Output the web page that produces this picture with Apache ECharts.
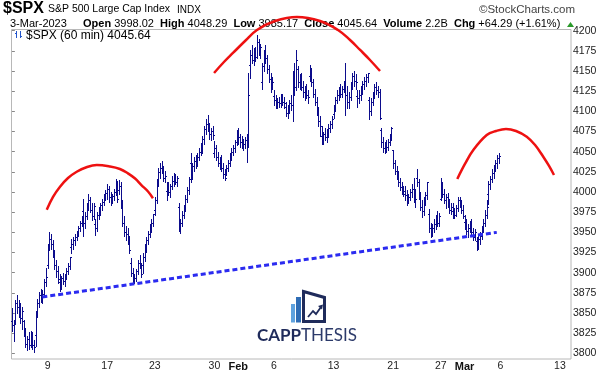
<!DOCTYPE html>
<html>
<head>
<meta charset="utf-8">
<script src="https://cdn.jsdelivr.net/npm/echarts@6/dist/echarts.min.js"></script>
<style>
html, body { margin: 0; padding: 0; background: #fff; }
#chart { width: 614px; height: 376px; }
</style>
</head>
<body>
<div id="chart"></div>
<script>
// $SPX 60 min bars, 7 bars per trading day
var days = ['2023-01-04','2023-01-05','2023-01-06','2023-01-09','2023-01-10','2023-01-11','2023-01-12','2023-01-13',
  '2023-01-17','2023-01-18','2023-01-19','2023-01-20','2023-01-23','2023-01-24','2023-01-25','2023-01-26','2023-01-27',
  '2023-01-30','2023-01-31','2023-02-01','2023-02-02','2023-02-03','2023-02-06','2023-02-07','2023-02-08','2023-02-09',
  '2023-02-10','2023-02-13','2023-02-14','2023-02-15','2023-02-16','2023-02-17','2023-02-21','2023-02-22','2023-02-23',
  '2023-02-24','2023-02-27','2023-02-28','2023-03-01','2023-03-02','2023-03-03'];
// empty slots to the right of the last bar
var futureDays = ['2023-03-06','2023-03-07','2023-03-08','2023-03-09','2023-03-10','2023-03-13'];
var hours = ['09:30','10:30','11:30','12:30','13:30','14:30','15:30'];

// [open, high, low, close] - one row per day
var ohlc = [
  [[3840,3856,3828,3835],[3835,3842,3815,3838],[3838,3866,3836,3862],[3862,3873,3850,3858],[3858,3866,3845,3850],[3850,3862,3838,3844],[3844,3858,3830,3852]],
  [[3840,3842,3822,3826],[3826,3832,3808,3812],[3812,3822,3804,3818],[3818,3826,3806,3810],[3810,3828,3808,3822],[3822,3826,3805,3811],[3811,3816,3802,3808]],
  [[3823,3852,3809,3848],[3848,3868,3845,3862],[3862,3876,3858,3872],[3872,3880,3864,3868],[3868,3878,3862,3874],[3874,3892,3870,3888],[3888,3906,3884,3895]],
  [[3910,3936,3906,3930],[3930,3951,3928,3942],[3942,3948,3930,3936],[3936,3940,3920,3924],[3924,3928,3904,3910],[3910,3916,3895,3902],[3902,3908,3887,3892]],
  [[3889,3898,3877,3884],[3884,3896,3880,3893],[3893,3900,3886,3890],[3890,3898,3884,3896],[3896,3906,3892,3902],[3902,3912,3898,3908],[3908,3919,3904,3919]],
  [[3932,3942,3925,3936],[3936,3944,3930,3940],[3940,3948,3934,3944],[3944,3952,3940,3950],[3950,3958,3945,3955],[3955,3964,3952,3962],[3962,3970,3958,3970]],
  [[3977,3992,3946,3962],[3962,3975,3955,3970],[3970,3986,3966,3982],[3982,3997,3978,3990],[3990,3994,3975,3978],[3978,3986,3965,3970],[3970,3986,3966,3983]],
  [[3960,3966,3947,3955],[3955,3975,3952,3972],[3972,3982,3966,3978],[3978,3986,3972,3984],[3984,3992,3978,3988],[3988,3998,3984,3994],[3994,4003,3990,3999]],
  [[3999,4010,3992,4004],[4004,4008,3988,3994],[3994,4000,3984,3990],[3990,3998,3986,3995],[3995,4004,3990,4000],[4000,4016,3996,4010],[4010,4014,3988,3991]],
  [[4002,4015,3998,4008],[4008,4012,3980,3984],[3984,3990,3958,3962],[3962,3970,3945,3950],[3950,3958,3940,3948],[3948,3955,3935,3940],[3940,3946,3925,3928]],
  [[3912,3918,3896,3900],[3900,3906,3886,3890],[3890,3898,3887,3894],[3894,3904,3890,3902],[3902,3916,3898,3912],[3912,3922,3906,3908],[3908,3912,3895,3898]],
  [[3909,3924,3900,3920],[3920,3935,3915,3930],[3930,3944,3926,3940],[3940,3952,3936,3948],[3948,3960,3944,3956],[3956,3966,3950,3962],[3962,3973,3958,3973]],
  [[3978,3994,3971,3990],[3990,4016,3986,4012],[4012,4030,4008,4025],[4025,4036,4018,4030],[4030,4039,4024,4028],[4028,4032,4014,4018],[4018,4026,4012,4020]],
  [[4001,4012,3990,4006],[4006,4012,3996,4000],[4000,4010,3994,4008],[4008,4020,4004,4014],[4014,4023,4008,4016],[4016,4022,4010,4012],[4012,4020,4008,4017]],
  [[3982,3986,3952,3958],[3958,3966,3949,3962],[3962,3976,3958,3972],[3972,3984,3968,3980],[3980,3996,3976,3992],[3992,4006,3988,4002],[4002,4019,3998,4016]],
  [[4036,4048,4013,4020],[4020,4036,4016,4032],[4032,4044,4026,4038],[4038,4046,4030,4034],[4034,4048,4032,4044],[4044,4054,4040,4050],[4050,4061,4046,4060]],
  [[4053,4070,4048,4066],[4066,4082,4060,4078],[4078,4090,4072,4084],[4084,4095,4076,4080],[4080,4086,4066,4072],[4072,4080,4064,4076],[4076,4082,4066,4071]],
  [[4049,4063,4044,4054],[4054,4058,4040,4044],[4044,4050,4032,4036],[4036,4044,4028,4040],[4040,4046,4026,4030],[4030,4036,4018,4022],[4022,4028,4015,4017]],
  [[4021,4034,4021,4030],[4030,4040,4026,4036],[4036,4048,4032,4044],[4044,4054,4040,4050],[4050,4058,4046,4054],[4054,4064,4050,4062],[4062,4077,4058,4077]],
  [[4070,4080,4060,4068],[4068,4072,4056,4062],[4062,4070,4054,4058],[4058,4066,4052,4060],[4060,4068,4054,4064],[4064,4072,4037,4060],[4060,4148,4056,4120]],
  [[4158,4176,4141,4170],[4170,4182,4160,4164],[4164,4178,4158,4174],[4174,4180,4162,4168],[4168,4195,4166,4186],[4186,4190,4170,4176],[4176,4184,4166,4180]],
  [[4137,4160,4128,4156],[4156,4176,4150,4170],[4170,4182,4160,4166],[4166,4170,4148,4152],[4152,4158,4136,4140],[4140,4148,4124,4132],[4132,4142,4128,4136]],
  [[4119,4127,4108,4114],[4114,4120,4104,4108],[4108,4116,4104,4112],[4112,4118,4106,4110],[4110,4122,4106,4116],[4116,4122,4108,4112],[4112,4118,4104,4111]],
  [[4106,4112,4094,4098],[4098,4108,4092,4104],[4104,4114,4098,4110],[4110,4120,4102,4108],[4108,4150,4088,4140],[4140,4160,4120,4130],[4130,4176,4126,4164]],
  [[4153,4156,4130,4136],[4136,4146,4128,4140],[4140,4148,4126,4130],[4130,4138,4118,4124],[4124,4132,4114,4128],[4128,4134,4116,4120],[4120,4126,4111,4118]],
  [[4144,4157,4138,4150],[4150,4154,4132,4136],[4136,4140,4118,4122],[4122,4128,4108,4112],[4112,4118,4096,4100],[4100,4106,4082,4088],[4088,4094,4069,4082]],
  [[4069,4082,4060,4066],[4066,4074,4060,4072],[4072,4080,4064,4068],[4068,4078,4062,4074],[4074,4084,4068,4080],[4080,4088,4074,4084],[4084,4094,4080,4090]],
  [[4097,4108,4092,4104],[4104,4118,4100,4114],[4114,4126,4110,4120],[4120,4130,4114,4126],[4126,4134,4118,4122],[4122,4132,4118,4128],[4128,4138,4124,4137]],
  [[4126,4160,4095,4120],[4120,4132,4104,4112],[4112,4124,4104,4118],[4118,4136,4114,4132],[4132,4148,4128,4144],[4144,4150,4132,4138],[4138,4146,4128,4136]],
  [[4119,4126,4106,4116],[4116,4126,4110,4120],[4120,4132,4114,4128],[4128,4138,4122,4134],[4134,4142,4128,4138],[4138,4146,4132,4142],[4142,4148,4136,4148]],
  [[4114,4118,4090,4100],[4100,4116,4096,4112],[4112,4124,4108,4120],[4120,4134,4116,4130],[4130,4136,4122,4126],[4126,4132,4118,4124],[4124,4128,4090,4092]],
  [[4077,4080,4056,4062],[4062,4068,4050,4054],[4054,4062,4048,4058],[4058,4064,4050,4056],[4056,4066,4052,4062],[4062,4072,4058,4068],[4068,4081,4064,4079]],
  [[4052,4052,4030,4036],[4036,4040,4022,4026],[4026,4032,4016,4020],[4020,4026,4008,4012],[4012,4018,4002,4006],[4006,4012,3998,4002],[4002,4008,3995,3997]],
  [[4001,4008,3990,3996],[3996,4002,3984,3988],[3988,3998,3986,3994],[3994,4004,3990,4000],[4000,4010,3994,4004],[4004,4018,3988,3996],[3996,4004,3982,3991]],
  [[4018,4028,4008,4012],[4012,4016,3992,3996],[3996,4000,3978,3982],[3982,3990,3969,3976],[3976,3994,3972,3990],[3990,4000,3984,3996],[3996,4012,3992,4012]],
  [[3973,3979,3950,3956],[3956,3962,3944,3950],[3950,3960,3946,3956],[3956,3966,3950,3960],[3960,3972,3954,3968],[3968,3976,3958,3962],[3962,3974,3958,3970]],
  [[3992,4018,3990,4008],[4008,4012,3994,3998],[3998,4004,3986,3990],[3990,3998,3980,3994],[3994,3999,3982,3986],[3986,3992,3974,3978],[3978,3986,3973,3982]],
  [[3977,3986,3968,3974],[3974,3980,3968,3972],[3972,3984,3970,3980],[3980,3994,3976,3990],[3990,3994,3982,3986],[3986,3990,3974,3978],[3978,3984,3968,3970]],
  [[3963,3971,3954,3958],[3958,3966,3948,3952],[3952,3960,3944,3956],[3956,3964,3950,3960],[3960,3966,3946,3950],[3950,3956,3940,3944],[3944,3954,3940,3951]],
  [[3939,3944,3928,3934],[3934,3946,3930,3942],[3942,3950,3936,3946],[3946,3958,3942,3954],[3954,3966,3950,3962],[3962,3978,3958,3972],[3972,3990,3968,3981]],
  [[3998,4014,3985,4010],[4010,4020,4004,4016],[4016,4028,4012,4024],[4024,4034,4018,4030],[4030,4040,4026,4036],[4036,4046,4030,4042],[4042,4048,4036,4045]]
];

// date axis labels (placed on the first bar of the day)
var tickDays = ['2023-01-09','2023-01-17','2023-01-23','2023-01-30','2023-02-01','2023-02-06','2023-02-13','2023-02-21','2023-02-27','2023-03-01','2023-03-06','2023-03-13'];
var tickTexts = ['9','17','23','30','Feb','6','13','21','27','Mar','6','13'];

// hand drawn annotations, [bar slot, price]
var leftArc = [[20.5,3978],[24.2,3994],[28.3,4006.6],[33,4017.4],[38.1,4025.2],[44.2,4031.1],[49.9,4033.5],
  [57.7,4031.7],[63.5,4028.6],[68.2,4023.2],[72.4,4016.8],[76.1,4008.7],[80,4000.7],[82.9,3992.3]];
var middleArc = [[118.8,4147.6],[124.6,4161.2],[129.9,4172.4],[137,4187.2],[144,4200.9],[154.6,4212],[167.5,4217],
  [181.1,4212],[191.6,4200.9],[198.7,4188.5],[204.6,4176.1],[210.4,4163.7],[216.3,4150]];
var rightArc = [[261.7,4016.2],[266.2,4034.8],[271.1,4052.1],[279,4070.7],[284.5,4075.7],[290.3,4078.2],
  [296.2,4075.7],[302.5,4068.6],[307.4,4058.3],[312.2,4043.8],[315.6,4032.3],[318.5,4021.1]];
var supportLine = [[17.9,3870],[284.9,3950]];

var barColor = '#0c0c8c';
var font = 'Liberation Sans, Arial, sans-serif';

var categories = [];
var barData = [];
days.concat(futureDays).forEach(function (d, di) {
  hours.forEach(function (h, hi) {
    var idx = categories.length;
    categories.push(d + ' ' + h);
    if (di < ohlc.length) {
      var b = ohlc[di][hi];
      barData.push([idx, b[0], b[1], b[2], b[3]]);
    }
  });
});
var nSlots = categories.length;

function labelFor(cat) {
  var parts = cat.split(' ');
  if (parts[1] !== hours[0]) return null;
  var k = tickDays.indexOf(parts[0]);
  return k < 0 ? null : tickTexts[k];
}

function renderBar(params, api) {
  var x = api.value(0);
  var pO = api.coord([x, api.value(1)]);
  var pH = api.coord([x, api.value(2)]);
  var pL = api.coord([x, api.value(3)]);
  var pC = api.coord([x, api.value(4)]);
  var cx = Math.round(pH[0]) + 0.5;
  var st = { stroke: barColor, lineWidth: 1 };
  return {
    type: 'group',
    children: [
      { type: 'line', shape: { x1: cx, y1: Math.round(pH[1]), x2: cx, y2: Math.round(pL[1]) + 1 }, style: st },
      { type: 'line', shape: { x1: cx - 1.5, y1: Math.round(pO[1]) + 0.5, x2: cx, y2: Math.round(pO[1]) + 0.5 }, style: st },
      { type: 'line', shape: { x1: cx, y1: Math.round(pC[1]) + 0.5, x2: cx + 1.5, y2: Math.round(pC[1]) + 0.5 }, style: st }
    ]
  };
}

function topLeft(text, x, y, f, color) {
  return { type: 'text', x: x, y: y, style: { text: text, font: f, fill: color || '#000',
    align: 'left', verticalAlign: 'top', textAlign: 'left', textVerticalAlign: 'top' } };
}

var arcStyle = { color: '#ee1111', width: 2.5 };

var chart = echarts.init(document.getElementById('chart'));
chart.setOption({
  animation: false,
  backgroundColor: '#fff',
  grid: { left: 11, right: 43, top: 30.7, bottom: 22.6, containLabel: false },
  xAxis: [{
    type: 'category',
    data: categories,
    boundaryGap: true,
    offset: 5.6,
    axisLine: { show: false },
    axisTick: { show: false },
    splitLine: { show: false },
    axisLabel: {
      interval: function (i, v) { return labelFor(v) !== null; },
      formatter: function (v) {
        var t = labelFor(v);
        if (t === null) return '';
        return /[A-Za-z]/.test(t) ? '{m|' + t + '}' : t;
      },
      margin: 2,
      fontFamily: font,
      fontSize: 10.5,
      color: '#222',
      rich: { m: { fontFamily: font, fontSize: 11, fontWeight: 'bold', color: '#111' } }
    }
  }, {
    type: 'value',
    show: false,
    min: -0.5,
    max: nSlots - 0.5
  }],
  yAxis: {
    type: 'value',
    position: 'right',
    min: 3800,
    max: 4200,
    interval: 25,
    axisLine: { show: false },
    axisTick: { show: true, length: 3, lineStyle: { color: '#888' } },
    splitLine: { show: false },
    axisLabel: {
      margin: 2, fontFamily: font, fontSize: 10.5, color: '#222',
      formatter: function (v) { return String(v); }
    }
  },
  series: [{
    type: 'custom',
    name: '$SPX',
    xAxisIndex: 0,
    renderItem: renderBar,
    encode: { x: 0, y: [1, 2, 3, 4] },
    data: barData,
    z: 3
  }, {
    type: 'line', xAxisIndex: 1, data: supportLine, symbol: 'none', clip: false, z: 4,
    lineStyle: { color: '#2b2bf0', width: 3, type: [5, 3] }
  }, {
    type: 'line', xAxisIndex: 1, data: leftArc, symbol: 'none', smooth: 0.4, clip: false, z: 4, lineStyle: arcStyle
  }, {
    type: 'line', xAxisIndex: 1, data: middleArc, symbol: 'none', smooth: 0.4, clip: false, z: 4, lineStyle: arcStyle
  }, {
    type: 'line', xAxisIndex: 1, data: rightArc, symbol: 'none', smooth: 0.4, clip: false, z: 4, lineStyle: arcStyle
  }],
  graphic: [
    // plot frame
    { type: 'rect', z: 1, shape: { x: 11.5, y: 29.5, width: 559.5, height: 329.5 },
      style: { fill: null, stroke: '#b8b8b8', lineWidth: 1 } },
    // header
    topLeft('$SPX', 3, 1, 'bold 16px ' + font),
    topLeft('S&P 500 Large Cap Index', 48, 4, '10.5px ' + font),
    topLeft('INDX', 177, 5, '10px ' + font),
    { type: 'text', x: 575, y: 4, style: { text: '\u00a9StockCharts.com', font: '11.5px ' + font, fill: '#444',
      align: 'right', verticalAlign: 'top', textAlign: 'right', textVerticalAlign: 'top' } },
    topLeft('3-Mar-2023', 10, 18, '11px ' + font),
    { type: 'text', x: 83, y: 18, style: {
      text: '{b|Open} 3998.02  {b|High} 4048.29  {b|Low} 3985.17  {b|Close} 4045.64  {b|Volume} 2.2B  {b|Chg} +64.29 (+1.61%)',
      font: '11px ' + font, fill: '#000', align: 'left', verticalAlign: 'top', textAlign: 'left', textVerticalAlign: 'top',
      rich: { b: { font: 'bold 11px ' + font, fill: '#000', fontWeight: 'bold', fontSize: 11, fontFamily: font } } } },
    { type: 'polygon', shape: { points: [[567, 27], [574, 27], [570.5, 22]] }, style: { fill: '#2a9a2a' } },
    // inner legend
    { type: 'line', shape: { x1: 16.5, y1: 31, x2: 16.5, y2: 38 }, style: { stroke: '#2255cc', lineWidth: 1 } },
    { type: 'line', shape: { x1: 20.5, y1: 31, x2: 20.5, y2: 38 }, style: { stroke: '#2255cc', lineWidth: 1 } },
    { type: 'line', shape: { x1: 15, y1: 33.5, x2: 16.5, y2: 33.5 }, style: { stroke: '#2255cc', lineWidth: 1 } },
    { type: 'line', shape: { x1: 20.5, y1: 36.5, x2: 22, y2: 36.5 }, style: { stroke: '#2255cc', lineWidth: 1 } },
    topLeft('$SPX (60 min) 4045.64', 26, 30, '12px ' + font),
    // watermark logo
    { type: 'rect', shape: { x: 291, y: 304, width: 4, height: 18.5 }, style: { fill: '#5fa2de' } },
    { type: 'rect', shape: { x: 296, y: 297, width: 5, height: 25.5 }, style: { fill: '#2f6db5' } },
    { type: 'polygon', shape: { points: [[303.5, 291.5], [324.5, 297.5], [324.5, 321.5], [303.5, 321.5]] }, style: { fill: null, stroke: '#1f2b5b', lineWidth: 3 } },
    { type: 'polyline', shape: { points: [[308, 317], [313, 311], [316, 314], [321, 307]] }, style: { fill: null, stroke: '#1f2b5b', lineWidth: 1.8 } },
    { type: 'polygon', shape: { points: [[318, 306], [323, 304.5], [322, 309.5]] }, style: { fill: '#1f2b5b' } },
    { type: 'text', x: 307, y: 335.5, style: {
      text: '{a|CAPP}{c|THESIS}', align: 'center', verticalAlign: 'middle', textAlign: 'center', textVerticalAlign: 'middle',
      rich: {
        a: { font: 'bold 17px Lato, sans-serif', fontWeight: 'bold', fontSize: 17, fontFamily: 'Lato', fill: '#1f2b5b' },
        c: { font: '17px Lato, sans-serif', fontSize: 17, fontFamily: 'Lato', fill: '#2c3a6a' }
      } } }
  ]
});
</script>
</body>
</html>
